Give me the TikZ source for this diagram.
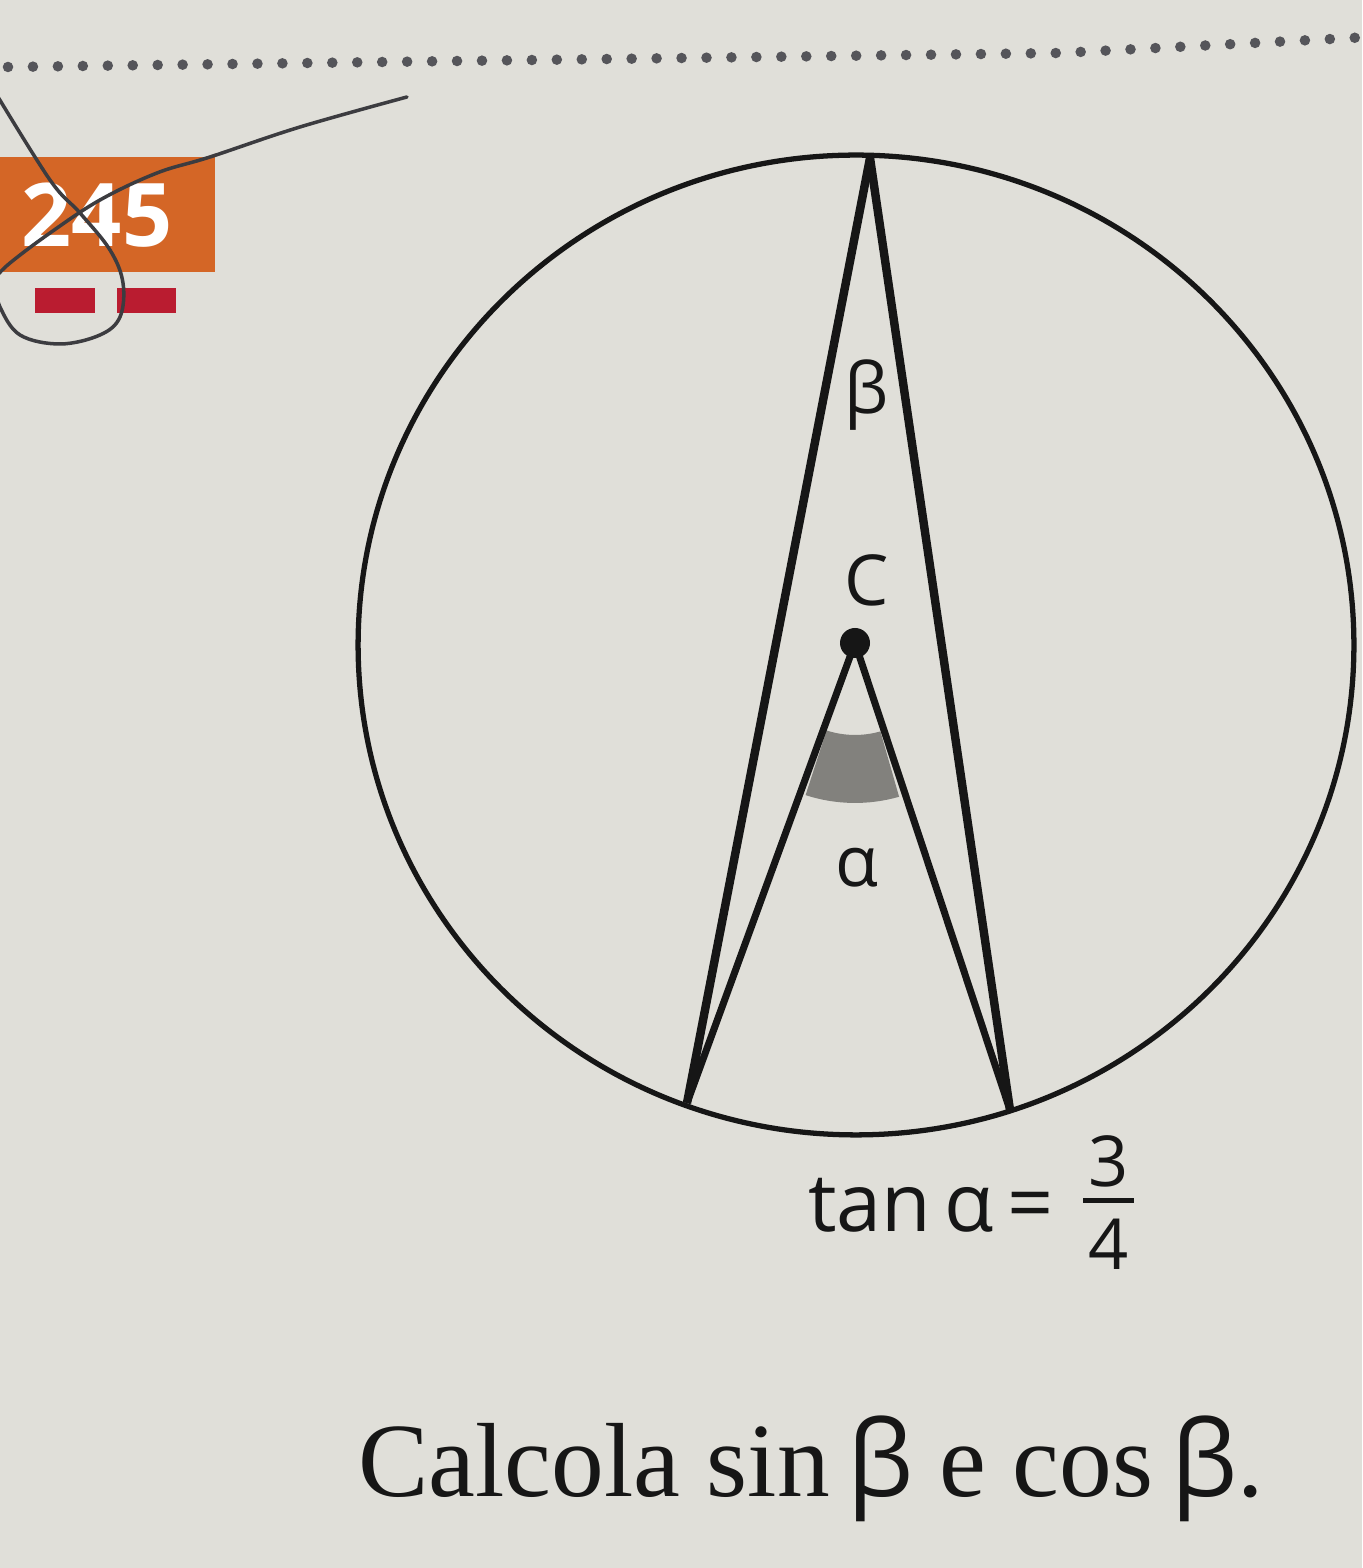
\documentclass[tikz,border=0pt]{standalone}
\usepackage{fontspec}
\setmainfont{Liberation Serif}
\newfontfamily\lab{Open Sans}
\usetikzlibrary{calc}
\definecolor{paper}{RGB}{224,223,217}
\definecolor{ink}{RGB}{22,22,22}
\definecolor{orange245}{RGB}{212,102,38}
\definecolor{red245}{RGB}{186,28,48}
\definecolor{pencol}{RGB}{60,60,64}
\definecolor{dotcol}{RGB}{85,85,90}
\tikzset{
  circ/.style={draw=ink, line width=3pt},
  tri/.style={draw=ink, line width=4.8pt},
  inner/.style={draw=ink, line width=4pt},
  cdot/.style={circle, fill=ink, inner sep=0pt, minimum size=0.6cm},
  lbl/.style={text=ink, font=\lab\fontsize{40}{44}\selectfont, inner sep=0pt},
  eqlbl/.style={text=ink, font=\lab\fontsize{46}{50}\selectfont, inner sep=0pt},
  fraclbl/.style={text=ink, font=\lab\fontsize{40}{43}\selectfont, inner sep=0pt},
  task/.style={text=ink, font=\fontsize{60}{66}\selectfont, inner sep=0pt},
  band/.style={fill=black, fill opacity=0.42},
  dotline/.style={draw=dotcol, line width=6pt, line cap=round, dash pattern=on 0pt off 14.2pt},
  pen/.style={draw=pencol, line width=2pt, line cap=round},
  numtxt/.style={text=white, font=\lab\bfseries\fontsize{50}{54}\selectfont, inner sep=0pt}
}
\begin{document}
\begin{tikzpicture}[x=0.02cm, y=0.02cm]
\fill[paper] (0,0) rectangle (1362,1568);
\useasboundingbox (0,0) rectangle (1362,1568);
\begin{scope}
\clip (0,0) rectangle (1362,1568);
% top dotted rule
\coordinate (dl) at (8,1501);
\coordinate (dm) at (1060,1515);
\coordinate (dr) at (1370,1531);
\draw[dotline] (dl) -- (dm) -- (dr);
% exercise label
\fill[orange245] (0,1296) rectangle (215,1411);
\node[numtxt] (n245) at (97,1353) {245};
\fill[red245] (35,1255) rectangle (95,1280);
\fill[red245] (117,1255) rectangle (176,1280);
% pen marks
\draw[pen] plot[smooth, tension=0.6] coordinates {(-5,1476) (50,1388) (80,1355) (110,1318) (123,1285) (120,1251) (100,1233) (60,1224) (20,1233) (0,1261) (-5,1285)};
\draw[pen] plot[smooth, tension=0.6] coordinates {(-5,1290) (10,1305) (50,1335) (100,1368) (157,1395) (210,1411) (300,1441) (407,1471)};
\end{scope}
% circle
\coordinate (O) at (856,923);
\draw[circ] (O) ellipse [x radius=9.96cm, y radius=9.8cm];
% points
\coordinate (T) at (870,1410);
\coordinate (BL) at (687,465);
\coordinate (BR) at (1010,458);
\node[cdot] (C) at (855,925) {};
% shaded angle band
\fill[band] ($(C)+(252:1.84cm)$) arc[start angle=252, end angle=286, radius=1.84cm]
  -- ($(C)+(286:3.2cm)$) arc[start angle=286, end angle=252, radius=3.2cm] -- cycle;
% chords
\draw[tri] (T) -- (BL);
\draw[tri] (T) -- (BR);
\draw[inner] (C.center) -- (BL);
\draw[inner] (C.center) -- (BR);
% labels
\node[lbl] (beta) at (867,1173) {β};
\node[lbl] (clab) at (867,988) {C};
\node[lbl] (alpha) at (857,700) {α};
\node[eqlbl, anchor=base west] (tan) at (808,336) {tan\,α\,=\,};
\node[fraclbl, anchor=west, xshift=0.3cm, yshift=-0.14cm] (frac) at (tan.east) {\setlength{\arrayrulewidth}{3pt}\renewcommand{\arraystretch}{0.9}\begin{tabular}{@{\hspace{3pt}}c@{\hspace{3pt}}}3\\[-5pt]\hline\rule{0pt}{0.95em}4\end{tabular}};
\node[task, anchor=base west] (task) at (358,71) {Calcola sin\,{\lab β} e cos\,{\lab β}.};
\end{tikzpicture}
\end{document}
